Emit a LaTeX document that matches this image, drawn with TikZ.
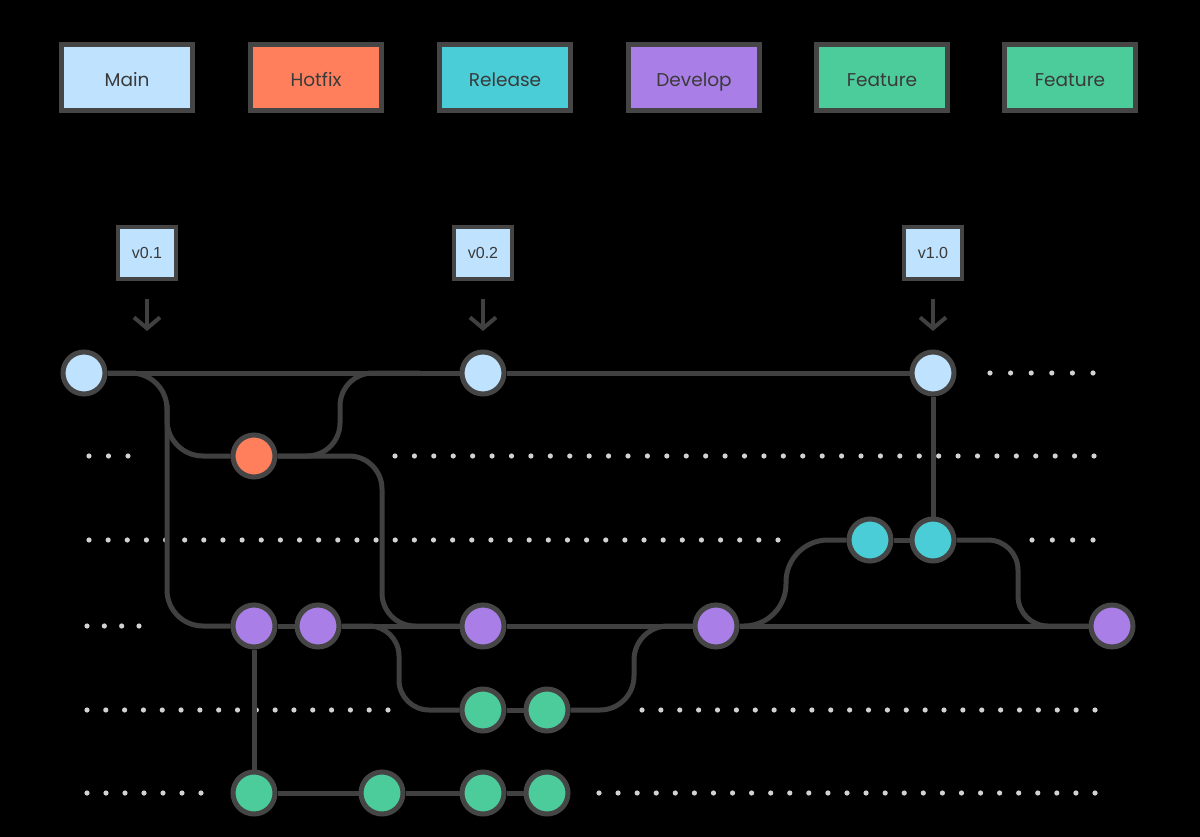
\documentclass[tikz,border=0pt]{standalone}
\usepackage{fontspec}
\setmainfont{Poppins}
\newfontfamily\tagfont{Liberation Sans}
\usetikzlibrary{arrows.meta}
\definecolor{mainc}{HTML}{BFE3FF}
\definecolor{hotc}{HTML}{FF7F5C}
\definecolor{relc}{HTML}{4ACDD6}
\definecolor{devc}{HTML}{A97EE6}
\definecolor{featc}{HTML}{4CCB9B}
\definecolor{bordc}{HTML}{454545}
\definecolor{linec}{HTML}{404040}
\definecolor{dotc}{HTML}{D2D2D2}
\definecolor{txtc}{HTML}{3A3A3A}
\pgfdeclarelayer{bg}
\pgfsetlayers{bg,main}
\newcommand\dotrow[4]{\foreach \i in {0,...,#4}{\fill[dotc] ({#2+(\i/#4)*(#3-#2)},#1) circle[radius=2.6pt];}}
\begin{document}
\begin{tikzpicture}[x=1pt,y=-1pt,
  commit/.style={circle, draw=bordc, line width=5pt, minimum size=42pt, inner sep=0pt},
  legendbox/.style={rectangle, draw=bordc, line width=5pt, minimum width=131pt, minimum height=66pt, inner sep=0pt, text height=17pt, text depth=0pt, text=txtc, font=\fontsize{18.5}{20}\selectfont},
  tagbox/.style={rectangle, draw=bordc, line width=4pt, minimum width=58pt, minimum height=52pt, inner sep=0pt, fill=mainc, text=txtc, font=\tagfont\fontsize{16}{18}\selectfont},
  branch/.style={draw=linec, line width=5pt},
  tagarrow/.style={draw=linec, line width=4pt, -{Straight Barb[length=11pt,width=26pt,line width=4pt]}}
]
\useasboundingbox (0,0) rectangle (1200,837);
% legend
\node[legendbox, fill=mainc] (lmain) at (127,78) {Main};
\node[legendbox, fill=hotc] (lhot) at (316,78) {Hotfix};
\node[legendbox, fill=relc] (lrel) at (505,78) {Release};
\node[legendbox, fill=devc] (ldev) at (694,78) {Develop};
\node[legendbox, fill=featc] (lfeat1) at (882,78) {Feature};
\node[legendbox, fill=featc] (lfeat2) at (1070,78) {Feature};
% tags
\node[tagbox] (t1) at (147,253) {v0.1};
\node[tagbox] (t2) at (483,253) {v0.2};
\node[tagbox] (t3) at (933,253) {v1.0};
\coordinate (a1s) at (147,299); \coordinate (a1e) at (147,331);
\coordinate (a2s) at (483,299); \coordinate (a2e) at (483,331);
\coordinate (a3s) at (933,299); \coordinate (a3e) at (933,331);
\draw[tagarrow] (a1s) -- (a1e);
\draw[tagarrow] (a2s) -- (a2e);
\draw[tagarrow] (a3s) -- (a3e);
% commits
\node[commit, fill=mainc] (m1) at (84,373) {};
\node[commit, fill=mainc] (m2) at (483,373) {};
\node[commit, fill=mainc] (m3) at (933,373) {};
\node[commit, fill=hotc] (h1) at (254,456) {};
\node[commit, fill=relc] (r1) at (870,540) {};
\node[commit, fill=relc] (r2) at (933,540) {};
\node[commit, fill=devc] (d1) at (254,626) {};
\node[commit, fill=devc] (d2) at (318,626) {};
\node[commit, fill=devc] (d3) at (483,626) {};
\node[commit, fill=devc] (d4) at (716,626) {};
\node[commit, fill=devc] (d5) at (1112,626) {};
\node[commit, fill=featc] (f1) at (483,710) {};
\node[commit, fill=featc] (f2) at (547,710) {};
\node[commit, fill=featc] (g1) at (254,793) {};
\node[commit, fill=featc] (g2) at (382,793) {};
\node[commit, fill=featc] (g3) at (483,793) {};
\node[commit, fill=featc] (g4) at (547,793) {};
\begin{pgfonlayer}{bg}
\fill[black] (0,0) rectangle (1200,837);
% dotted rows
\dotrow{373}{990}{1093}{5}
\dotrow{456}{89}{128}{2}
\dotrow{456}{395}{1094}{36}
\dotrow{540}{89}{778}{36}
\dotrow{540}{1032}{1093}{3}
\dotrow{626}{87}{139}{3}
\dotrow{710}{87}{388}{16}
\dotrow{710}{642}{1095}{24}
\dotrow{793}{87}{201}{6}
\dotrow{793}{599}{1095}{26}
% branches
\draw[branch] (m1) -- (m2) -- (m3);
\draw[branch] (d1) -- (d2) -- (d3) -- (d4) -- (d5);
\draw[branch] (r1) -- (r2);
\draw[branch] (r2) -- (m3);
\draw[branch] (f1) -- (f2);
\draw[branch] (d1) -- (g1);
\draw[branch] (g1) -- (g2) -- (g3) -- (g4);
\draw[branch, rounded corners=36pt] (m1) -| (167,626) -- (d1);
\draw[branch, rounded corners=36pt] (167,405) |- (h1);
\draw[branch, rounded corners=33pt] (h1) -| (340,373) -- (420,373);
\draw[branch, rounded corners=33pt] (h1) -| (382,626) -- (d3);
\draw[branch, rounded corners=30pt] (d2) -| (399,710) -- (f1);
\draw[branch, rounded corners=34pt] (f2) -| (634,626) -- (d4);
\draw[branch, rounded corners=42pt] (d4) -| (786,540) -- (r1);
\draw[branch, rounded corners=30pt] (r2) -| (1018,626) -- (d5);
\end{pgfonlayer}
\end{tikzpicture}
\end{document}
